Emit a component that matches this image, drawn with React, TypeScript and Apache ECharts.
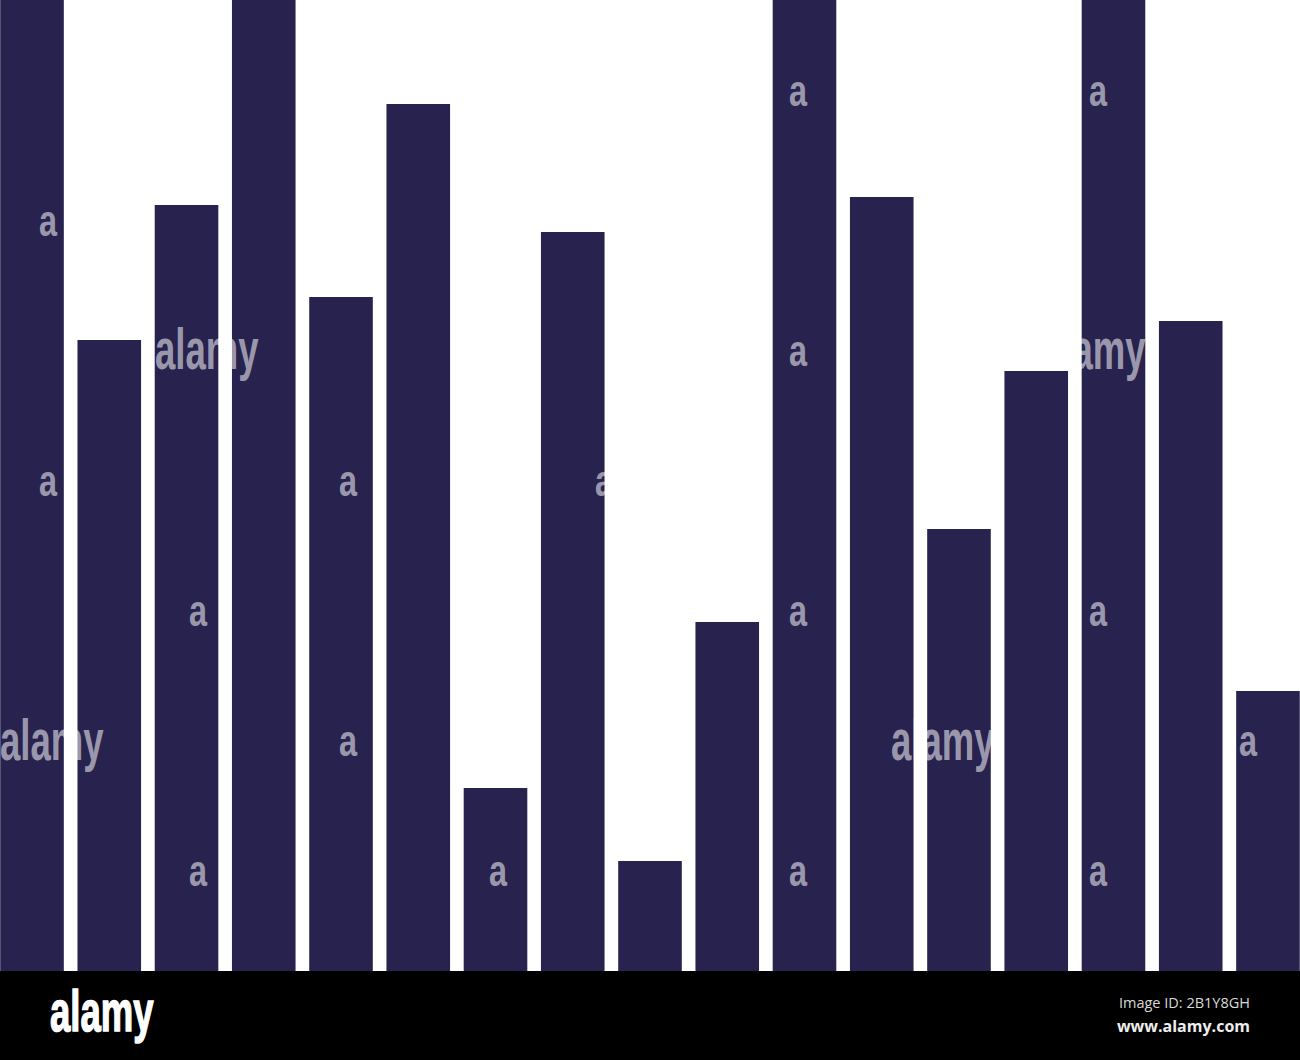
import { useEffect, useRef } from 'react'
import * as echarts from 'echarts'

const categories = ['1', '2', '3', '4', '5', '6', '7', '8', '9', '10', '11', '12', '13', '14', '15', '16', '17']
const barValues = [971, 631, 766, 971, 674, 867, 183, 739, 110, 349, 971, 774, 442, 600, 971, 650, 280]
const wordMarks = [[155, 349], [0, 740], [891, 740], [1042, 349]]
const letterMarks = [
  [48, 221], [48, 481], [198, 611], [198, 871], [348, 481], [348, 741], [498, 871], [604, 481],
  [798, 91], [798, 351], [798, 611], [798, 871], [1098, 91], [1098, 611], [1098, 871], [1248, 741],
]

const markFill = 'rgba(255,255,255,0.55)'

export default function App() {
  const rootRef = useRef<HTMLDivElement | null>(null)
  useEffect(() => {
    if (!rootRef.current) return
    const chart = echarts.init(rootRef.current, null, { renderer: 'svg' })
    const word = (x: number, y: number, fill: string, stroke?: string) => ({
      type: 'text', x, y, scaleX: 0.63, z: 10,
      style: { text: 'alamy', fill, stroke, lineWidth: stroke ? 1.5 : 0, font: 'bold 58px "Liberation Sans"', verticalAlign: 'middle' },
    })
    chart.setOption({
      animation: false,
      grid: { left: -6.6, top: 0, width: 1313.2, height: 971, outerBoundsMode: 'none' },
      xAxis: { type: 'category', data: categories, show: false },
      yAxis: { type: 'value', min: 0, max: 971, show: false },
      series: [{ type: 'bar', data: barValues, barWidth: 63.6, itemStyle: { color: '#28234e' } }],
      graphic: [
        { type: 'rect', shape: { x: 0, y: 971, width: 1300, height: 89 }, style: { fill: '#000' }, z: 5 },
        ...wordMarks.map(([x, y]) => word(x, y, markFill)),
        ...letterMarks.map(([x, y]) => ({
          type: 'text', x, y, scaleX: 0.72, z: 10,
          style: { text: 'a', fill: markFill, font: 'bold 45px "Liberation Sans"', align: 'center', verticalAlign: 'middle' },
        })),
        word(50, 1011, '#ffffff', '#ffffff'),
        { type: 'text', x: 1250, y: 1002, z: 10, style: { text: 'Image ID: 2B1Y8GH', fill: '#d8d8d8', font: '14.5px "Open Sans"', align: 'right', verticalAlign: 'middle' } },
        { type: 'text', x: 1250, y: 1026, z: 10, style: { text: 'www.alamy.com', fill: '#eeeeee', font: 'bold 16px "Open Sans"', align: 'right', verticalAlign: 'middle' } },
      ],
    })
    return () => chart.dispose()
  }, [])

  return <div ref={rootRef} style={{ position: 'absolute', left: 0, top: 0, width: 1300, height: 1060, background: '#fff' }} />
}
